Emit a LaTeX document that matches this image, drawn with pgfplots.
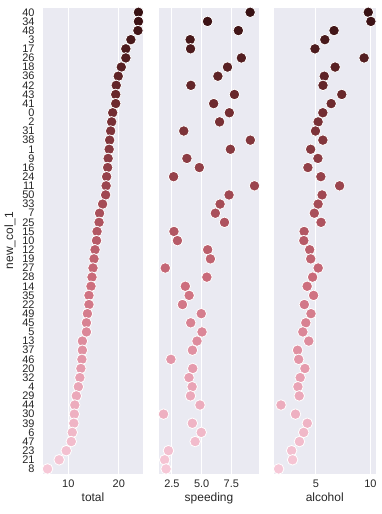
\documentclass[border=0pt]{standalone}
\usepackage{pgfplots}
\pgfplotsset{compat=1.18}
\usepackage{pgfplotstable}
\usepackage{fontspec}
\setmainfont{Liberation Sans}
\definecolor{bgc}{HTML}{EAEAF2}
\definecolor{txt}{HTML}{262626}
\pgfplotstableread{
idx label total speeding alcohol
0 40 23.9 9.082 9.799
1 34 23.9 5.497 10.038
2 48 23.8 8.092 6.664
3 3 22.4 4.032 5.824
4 17 21.4 4.066 4.922
5 26 21.4 8.346 9.416
6 18 20.5 7.175 6.765
7 36 19.9 6.368 5.771
8 42 19.5 4.095 5.655
9 43 19.4 7.760 7.372
10 41 19.4 6.014 6.402
11 0 18.8 7.332 5.640
12 2 18.6 6.510 5.208
13 31 18.4 3.496 4.968
14 38 18.2 9.100 5.642
15 1 18.1 7.421 4.525
16 9 17.9 3.759 5.191
17 16 17.8 4.806 4.272
18 24 17.6 2.640 5.456
19 11 17.5 9.450 7.175
20 50 17.4 7.308 5.568
21 33 16.8 6.552 5.208
22 7 16.2 6.156 4.860
23 25 16.1 6.923 5.474
24 15 15.7 2.669 3.925
25 10 15.6 2.964 3.900
26 12 15.3 5.508 4.437
27 19 15.1 5.738 4.530
28 27 14.9 1.937 5.215
29 28 14.7 5.439 4.704
30 14 14.5 3.625 4.205
31 35 14.1 3.948 4.794
32 22 14.1 3.384 3.948
33 49 13.8 4.968 4.554
34 45 13.6 4.080 4.080
35 5 13.6 5.032 3.808
36 13 12.8 4.608 4.352
37 37 12.8 4.224 3.328
38 46 12.7 2.413 3.429
39 20 12.5 4.250 4.000
40 32 12.3 3.936 3.567
41 4 12.0 4.200 3.360
42 29 11.6 4.060 3.480
43 44 11.3 4.859 1.808
44 30 11.2 1.792 3.136
45 39 11.1 4.218 4.218
46 6 10.8 4.968 3.888
47 47 10.6 4.452 3.498
48 23 9.6 2.208 2.784
49 21 8.2 1.886 2.870
50 8 5.9 2.006 1.593
}\data
\pgfplotsset{
  strip/.style={
    scale only axis, width=100bp, height=465.8bp,
    anchor=south west,
    ymin=-0.5, ymax=50.5, y dir=reverse,
    axis background/.style={fill=bgc},
    axis line style={draw=none},
    major tick length=0pt,
    xmajorgrids, grid style={white, line width=1.1bp},
    ytick=\empty,
    tick label style={font=\fontsize{11}{11}\selectfont, text=txt},
    xticklabel style={yshift=-3bp},
    label style={font=\fontsize{12}{12}\selectfont, text=txt},
    xlabel style={yshift=2bp},
    /pgf/number format/assume math mode=true,
    colormap={crash}{rgb255(0cm)=(55,17,19); rgb255(1cm)=(110,42,46); rgb255(2cm)=(160,72,82); rgb255(3cm)=(205,110,125); rgb255(4cm)=(232,160,178); rgb255(5cm)=(246,200,215)},
    point meta min=0, point meta max=50,
    clip=false,
  },
  dots/.style={scatter, only marks, mark=*, mark size=5.3bp,
    scatter/use mapped color={draw=white, fill=mapped color}, line width=0.8bp},
}
\begin{document}
\begin{tikzpicture}
\useasboundingbox (0,0) rectangle (382bp,514bp);
\begin{axis}[strip, at={(43bp,40.5bp)},
  xmin=5.0, xmax=24.8, xtick={10,20}, xlabel={total},
  ytick={0,...,50}, yticklabels from table={\data}{label},
  yticklabel style={xshift=-5bp, inner ysep=0pt},
  ylabel={new\_col\_1}]
\addplot[dots] table[x=total, y=idx, meta=idx]{\data};
\end{axis}
\begin{axis}[strip, at={(159bp,40.5bp)},
  xmin=1.41, xmax=9.83, xtick={2.5,5,7.5}, xlabel={speeding},
  xticklabel style={/pgf/number format/.cd, fixed, fixed zerofill, precision=1}]
\addplot[dots] table[x=speeding, y=idx, meta=idx]{\data};
\end{axis}
\begin{axis}[strip, at={(274bp,40.5bp)}, width=101.5bp,
  xmin=1.17, xmax=10.46, xtick={5,10}, xlabel={alcohol}]
\addplot[dots] table[x=alcohol, y=idx, meta=idx]{\data};
\end{axis}
\end{tikzpicture}
\end{document}
